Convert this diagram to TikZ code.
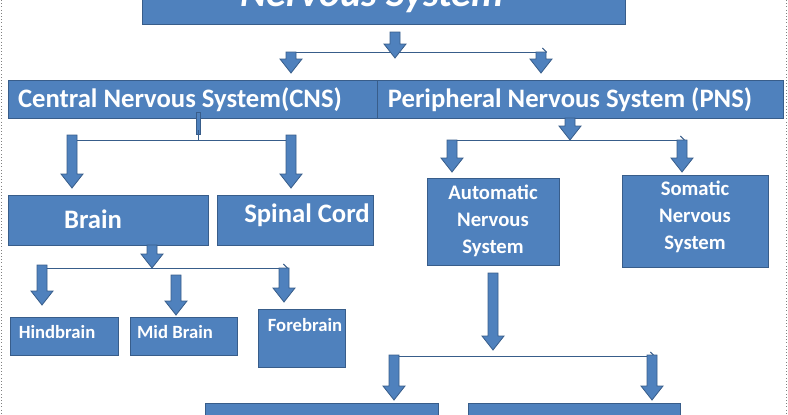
\documentclass[tikz,border=0pt]{standalone}
\usepackage{fontspec}
\setmainfont{Carlito}
\usetikzlibrary{arrows.meta}
\definecolor{bx}{HTML}{4F81BD}
\definecolor{bd}{HTML}{385D8A}
\begin{document}
\begin{tikzpicture}[x=0.75pt,y=-0.75pt,
  box/.style={fill=bx,draw=bd,line width=0.6pt},
  lbl/.style={text=white,font=\bfseries\fontsize{20}{24}\selectfont,align=center},
  slbl/.style={text=white,font=\bfseries\fontsize{15.5}{20}\selectfont,align=center},
  tlbl/.style={text=white,font=\bfseries\fontsize{14}{17}\selectfont},
  hline/.style={draw=bd,line width=0.7pt,-{Straight Barb[length=3pt]}}]
\useasboundingbox (0,0) rectangle (788,414);
\clip (0,0) rectangle (788,414);
\newcommand{\barrow}[3]{\filldraw[fill=bx,draw=bd,line width=0.6pt] (#1-5,#2) -- (#1+5,#2) -- (#1+5,#3-14) -- (#1+11,#3-14) -- (#1,#3) -- (#1-11,#3-14) -- (#1-5,#3-14) -- cycle;}
% boxes
\node[box,minimum width=483*0.75pt,minimum height=55*0.75pt,anchor=south west,inner sep=0] (ns) at (142,25) {};
\node[text=white,font=\bfseries\itshape\fontsize{30}{34}\selectfont] (nst) at (372,-3) {Nervous System};
\path[box] (8,80) rectangle (377,118);
\path[box] (377,80) rectangle (783,118);
\node[lbl] (cns) at (180,100) {Central Nervous System(CNS)};
\node[lbl] (pns) at (570,100) {Peripheral Nervous System (PNS)};
\path[box] (8,195) rectangle (208,245);
\node[lbl] (brain) at (93,219) {Brain};
\path[box] (217,195) rectangle (373,245);
\node[lbl] (spinal) at (307,215) {Spinal Cord};
\path[box] (427,178) rectangle (559,265);
\node[slbl] (ans) at (493,221) {Automatic\\Nervous\\System};
\path[box] (622,175) rectangle (768,267);
\node[slbl] (sns) at (695,217) {Somatic\\Nervous\\System};
\path[box] (10,317) rectangle (118,355);
\node[tlbl] (hind) at (57,332) {Hindbrain};
\path[box] (130,317) rectangle (237,355);
\node[tlbl] (mid) at (175,332) {Mid Brain};
\path[box] (258,309) rectangle (345,367);
\node[tlbl] (fore) at (305,325) {Forebrain};
\path[box] (205,403) rectangle (438,430);
\path[box] (468,403) rectangle (680,430);
% connectors
\coordinate (a1) at (291,52); \coordinate (a2) at (547,52);
\draw[hline] (a1) -- (a2);
\barrow{395}{32}{58}\barrow{291}{52}{73}\barrow{541}{52}{73}
\coordinate (b1) at (72,140); \coordinate (b2) at (295,140);
\draw[hline] (b1) -- (b2);
\barrow{72}{135}{188}\barrow{291}{135}{188}
\draw[bd,fill=bx,line width=0.5pt] (196,112) rectangle (200,134);
\draw[bd,line width=0.6pt] (198,130) -- (198,141);
\coordinate (c1) at (452,140); \coordinate (c2) at (685,140);
\draw[hline] (c1) -- (c2);
\barrow{570}{118}{140}\barrow{452}{140}{172}\barrow{682}{140}{172}
\coordinate (d1) at (42,268); \coordinate (d2) at (288,268);
\draw[hline] (d1) -- (d2);
\barrow{152}{245}{268}\barrow{42}{265}{305}\barrow{176}{275}{315}\barrow{284}{268}{302}
\coordinate (e1) at (394,356); \coordinate (e2) at (655,356);
\draw[hline] (e1) -- (e2);
\barrow{493}{273}{350}\barrow{394}{355}{400}\barrow{652}{355}{400}
\draw[gray,dotted] (786,0) -- (786,414);
\draw[gray,dotted] (1,0) -- (1,414);
\end{tikzpicture}
\end{document}
